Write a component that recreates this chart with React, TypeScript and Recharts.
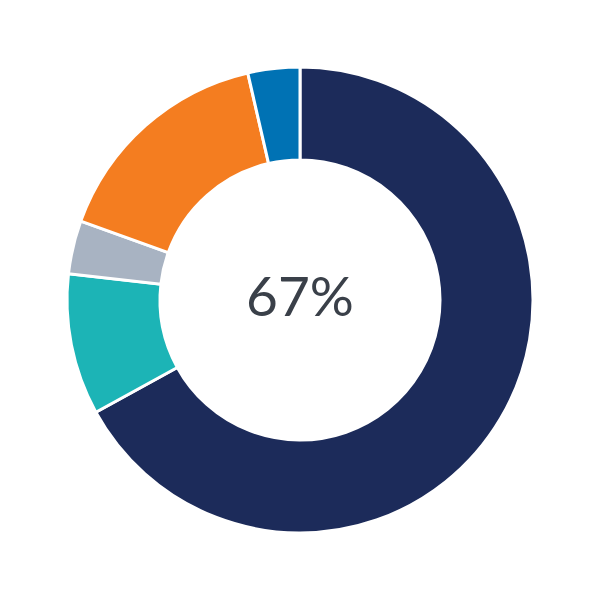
import React from 'react';
import { PieChart, Pie, Cell } from 'recharts';

const categories = ['Navy', 'Teal', 'Gray', 'Orange', 'Blue'];
const values = [67, 9.8, 3.7, 15.9, 3.6];
const colors = ['#1c2b5a', '#1cb4b6', '#a8b3c2', '#f47d20', '#0072b4'];
const centerLabel = '67%';

const data = categories.map((name, i) => ({ name, value: values[i] }));

const App: React.FC = () => {
  return (
    <div style={{ position: 'absolute', top: 0, left: 0, width: 600, height: 600, background: '#fff' }}>
      <PieChart width={600} height={600} margin={{ top: 0, right: 0, bottom: 0, left: 0 }}>
        <Pie
          data={data}
          dataKey="value"
          nameKey="name"
          cx={300}
          cy={300}
          innerRadius={140}
          outerRadius={233}
          startAngle={90}
          endAngle={-270}
          stroke="#ffffff"
          strokeWidth={3}
          isAnimationActive={false}
        >
          {data.map((d, i) => (
            <Cell key={d.name} fill={colors[i]} />
          ))}
        </Pie>
        <text
          x={300}
          y={295}
          textAnchor="middle"
          dominantBaseline="central"
          fontFamily="Lato"
          fontWeight={400}
          fontSize={55}
          fill="#3a4049"
        >
          {centerLabel}
        </text>
      </PieChart>
    </div>
  );
};

export default App;
